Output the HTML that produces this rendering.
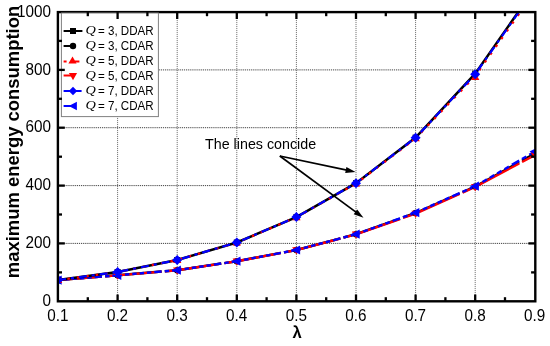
<!DOCTYPE html>
<html><head><meta charset="utf-8"><title>maximum energy consumption</title>
<style>
html,body{margin:0;padding:0;background:#fff;}
body{width:550px;height:346px;overflow:hidden;}
svg{display:block;}
text{font-family:"Liberation Sans",Arial,sans-serif;fill:#000;}
.tk{font-size:16px;}
.lg{font-size:12.1px;}
.q{font-family:"Liberation Serif","Times New Roman",serif;font-style:italic;font-size:13px;}
</style></head><body>
<svg width="550" height="346" viewBox="0 0 550 346">
<rect width="550" height="346" fill="#fff"/>
<defs><clipPath id="cp"><rect x="57.9" y="12.1" width="477.4" height="289.2"/></clipPath></defs>
<g stroke="#666" stroke-width="1" stroke-dasharray="1 1" fill="none">
<line x1="117.6" y1="12.1" x2="117.6" y2="301.4"/>
<line x1="177.2" y1="12.1" x2="177.2" y2="301.4"/>
<line x1="236.8" y1="12.1" x2="236.8" y2="301.4"/>
<line x1="296.4" y1="12.1" x2="296.4" y2="301.4"/>
<line x1="356.0" y1="12.1" x2="356.0" y2="301.4"/>
<line x1="415.6" y1="12.1" x2="415.6" y2="301.4"/>
<line x1="475.2" y1="12.1" x2="475.2" y2="301.4"/>
<line x1="57.9" y1="243.4" x2="535.2" y2="243.4" stroke="#444" stroke-dasharray="1.2 0.9"/>
<line x1="57.9" y1="185.6" x2="535.2" y2="185.6" stroke="#444" stroke-dasharray="1.2 0.9"/>
<line x1="57.9" y1="127.7" x2="535.2" y2="127.7" stroke="#444" stroke-dasharray="1.2 0.9"/>
<line x1="57.9" y1="69.9" x2="535.2" y2="69.9" stroke="#444" stroke-dasharray="1.2 0.9"/>
</g>
<g clip-path="url(#cp)" fill="none">
<line x1="58.0" y1="280.1" x2="117.6" y2="275.3" stroke="#000" stroke-width="2.4" stroke-dasharray="44.1 3.2 200"/>
<line x1="117.6" y1="275.3" x2="177.2" y2="270.2" stroke="#000" stroke-width="2.4" stroke-dasharray="44.2 3.2 200"/>
<line x1="177.2" y1="270.2" x2="236.8" y2="261.2" stroke="#000" stroke-width="2.4" stroke-dasharray="44.5 3.2 200"/>
<line x1="236.8" y1="261.2" x2="296.4" y2="250.0" stroke="#000" stroke-width="2.4" stroke-dasharray="44.8 3.2 200"/>
<line x1="296.4" y1="250.0" x2="356.0" y2="234.2" stroke="#000" stroke-width="2.4" stroke-dasharray="45.5 3.2 200"/>
<line x1="356.0" y1="234.2" x2="415.6" y2="213.0" stroke="#000" stroke-width="2.4" stroke-dasharray="46.7 3.2 200"/>
<line x1="415.6" y1="213.0" x2="475.2" y2="186.5" stroke="#000" stroke-width="2.4" stroke-dasharray="48.2 3.2 200"/>
<line x1="475.2" y1="186.5" x2="534.8" y2="153.6" stroke="#000" stroke-width="2.4" stroke-dasharray="50.3 3.2 200"/>
<line x1="58.0" y1="280.1" x2="117.6" y2="275.4" stroke="#f00" stroke-width="2.4" stroke-dasharray="44.1 3.2 200"/>
<line x1="117.6" y1="275.4" x2="177.2" y2="270.3" stroke="#f00" stroke-width="2.4" stroke-dasharray="44.2 3.2 200"/>
<line x1="177.2" y1="270.3" x2="236.8" y2="261.3" stroke="#f00" stroke-width="2.4" stroke-dasharray="44.5 3.2 200"/>
<line x1="236.8" y1="261.3" x2="296.4" y2="250.1" stroke="#f00" stroke-width="2.4" stroke-dasharray="44.8 3.2 200"/>
<line x1="296.4" y1="250.1" x2="356.0" y2="234.4" stroke="#f00" stroke-width="2.4" stroke-dasharray="45.5 3.2 200"/>
<line x1="356.0" y1="234.4" x2="415.6" y2="213.6" stroke="#f00" stroke-width="2.4" stroke-dasharray="46.6 3.2 200"/>
<line x1="415.6" y1="213.6" x2="475.2" y2="187.0" stroke="#f00" stroke-width="2.4" stroke-dasharray="48.2 3.2 200"/>
<line x1="475.2" y1="187.0" x2="534.8" y2="155.2" stroke="#f00" stroke-width="2.4" stroke-dasharray="49.9 3.2 200"/>
<line x1="58.0" y1="280.1" x2="117.6" y2="275.3" stroke="#00f" stroke-width="2.4" stroke-dasharray="4.41 2.94 4.41 2.94 4.41 2.94 4.41 2.94 4.41 2.94 7.36 3.2 4.41 2.94 4.41 2.94 4.41 2.94"/>
<line x1="117.6" y1="275.3" x2="177.2" y2="270.2" stroke="#00f" stroke-width="2.4" stroke-dasharray="4.42 2.94 4.42 2.94 4.42 2.94 4.42 2.94 4.42 2.94 7.36 3.2 4.42 2.94 4.42 2.94 4.42 2.94"/>
<line x1="177.2" y1="270.2" x2="236.8" y2="261.2" stroke="#00f" stroke-width="2.4" stroke-dasharray="4.45 2.97 4.45 2.97 4.45 2.97 4.45 2.97 4.45 2.97 7.42 3.2 4.45 2.97 4.45 2.97 4.45 2.97"/>
<line x1="236.8" y1="261.2" x2="296.4" y2="250.0" stroke="#00f" stroke-width="2.4" stroke-dasharray="4.48 2.98 4.48 2.98 4.48 2.98 4.48 2.98 4.48 2.98 7.46 3.2 4.48 2.98 4.48 2.98 4.48 2.98"/>
<line x1="296.4" y1="250.0" x2="356.0" y2="234.2" stroke="#00f" stroke-width="2.4" stroke-dasharray="4.55 3.03 4.55 3.03 4.55 3.03 4.55 3.03 4.55 3.03 7.59 3.2 4.55 3.03 4.55 3.03 4.55 3.03"/>
<line x1="356.0" y1="234.2" x2="415.6" y2="212.7" stroke="#00f" stroke-width="2.4" stroke-dasharray="4.68 3.12 4.68 3.12 4.68 3.12 4.68 3.12 4.68 3.12 7.80 3.2 4.68 3.12 4.68 3.12 4.68 3.12"/>
<line x1="415.6" y1="212.7" x2="475.2" y2="186.2" stroke="#00f" stroke-width="2.4" stroke-dasharray="4.82 3.21 4.82 3.21 4.82 3.21 4.82 3.21 4.82 3.21 8.03 3.2 4.82 3.21 4.82 3.21 4.82 3.21"/>
<line x1="475.2" y1="186.2" x2="534.8" y2="151.6" stroke="#00f" stroke-width="2.4" stroke-dasharray="5.09 3.39 5.09 3.39 5.09 3.39 5.09 3.39 5.09 3.39 8.48 3.2 5.09 3.39 5.09 3.39 5.09 3.39"/>
<polyline points="58.0,280.1 117.6,272.0 177.2,260.0 236.8,242.5 296.4,217.1 356.0,183.2 415.6,137.6 475.2,73.6 534.8,-11.6" stroke="#000" stroke-width="2.5"/>
<polyline points="58.0,280.1 117.6,272.0 177.2,260.0 236.8,242.6 296.4,217.3 356.0,183.6 415.6,138.4 475.2,76.0 534.8,-8.4" stroke="#f00" stroke-width="2.2" stroke-dasharray="2.5 7"/>
<polyline points="58.0,280.1 117.6,272.0 177.2,260.0 236.8,242.5 296.4,217.1 356.0,183.2 415.6,137.7 475.2,74.2 534.8,-10.6" stroke="#00f" stroke-width="2.2" stroke-dasharray="8 5 3 5"/>
<circle cx="58.0" cy="280.1" r="3.2" fill="#000"/>
<circle cx="117.6" cy="275.3" r="3.2" fill="#000"/>
<circle cx="177.2" cy="270.2" r="3.2" fill="#000"/>
<circle cx="236.8" cy="261.2" r="3.2" fill="#000"/>
<circle cx="296.4" cy="250.0" r="3.2" fill="#000"/>
<circle cx="356.0" cy="234.2" r="3.2" fill="#000"/>
<circle cx="415.6" cy="213.0" r="3.2" fill="#000"/>
<circle cx="475.2" cy="186.5" r="3.2" fill="#000"/>
<circle cx="534.8" cy="153.6" r="3.2" fill="#000"/>
<polygon points="58.0,284.5 53.8,277.2 62.2,277.2" fill="#f00"/>
<polygon points="117.6,279.8 113.4,272.5 121.8,272.5" fill="#f00"/>
<polygon points="177.2,274.7 173.0,267.4 181.4,267.4" fill="#f00"/>
<polygon points="236.8,265.7 232.6,258.4 241.0,258.4" fill="#f00"/>
<polygon points="296.4,254.5 292.2,247.2 300.6,247.2" fill="#f00"/>
<polygon points="356.0,238.8 351.8,231.5 360.2,231.5" fill="#f00"/>
<polygon points="415.6,218.0 411.4,210.7 419.8,210.7" fill="#f00"/>
<polygon points="475.2,191.4 471.0,184.1 479.4,184.1" fill="#f00"/>
<polygon points="534.8,159.6 530.6,152.3 539.0,152.3" fill="#f00"/>
<polygon points="52.7,280.1 61.7,275.5 61.7,284.7" fill="#00f"/>
<polygon points="112.3,275.3 121.3,270.7 121.3,279.9" fill="#00f"/>
<polygon points="171.9,270.2 180.9,265.6 180.9,274.8" fill="#00f"/>
<polygon points="231.5,261.2 240.5,256.6 240.5,265.8" fill="#00f"/>
<polygon points="291.1,250.0 300.1,245.4 300.1,254.6" fill="#00f"/>
<polygon points="350.7,234.2 359.7,229.6 359.7,238.8" fill="#00f"/>
<polygon points="410.3,212.7 419.3,208.1 419.3,217.3" fill="#00f"/>
<polygon points="469.9,186.2 478.9,181.6 478.9,190.8" fill="#00f"/>
<polygon points="529.5,151.6 538.5,147.0 538.5,156.2" fill="#00f"/>
<rect x="55.0" y="277.1" width="6.0" height="6.0" fill="#000"/>
<rect x="114.6" y="269.0" width="6.0" height="6.0" fill="#000"/>
<rect x="174.2" y="257.0" width="6.0" height="6.0" fill="#000"/>
<rect x="233.8" y="239.5" width="6.0" height="6.0" fill="#000"/>
<rect x="293.4" y="214.1" width="6.0" height="6.0" fill="#000"/>
<rect x="353.0" y="180.2" width="6.0" height="6.0" fill="#000"/>
<rect x="412.6" y="134.6" width="6.0" height="6.0" fill="#000"/>
<rect x="472.2" y="70.6" width="6.0" height="6.0" fill="#000"/>
<rect x="531.8" y="-14.6" width="6.0" height="6.0" fill="#000"/>
<polygon points="58.0,275.7 53.8,283.0 62.2,283.0" fill="#f00"/>
<polygon points="117.6,267.6 113.4,274.9 121.8,274.9" fill="#f00"/>
<polygon points="177.2,255.6 173.0,262.9 181.4,262.9" fill="#f00"/>
<polygon points="236.8,238.2 232.6,245.5 241.0,245.5" fill="#f00"/>
<polygon points="296.4,212.9 292.2,220.2 300.6,220.2" fill="#f00"/>
<polygon points="356.0,179.2 351.8,186.5 360.2,186.5" fill="#f00"/>
<polygon points="415.6,134.0 411.4,141.3 419.8,141.3" fill="#f00"/>
<polygon points="475.2,72.8 471.0,80.1 479.4,80.1" fill="#f00"/>
<polygon points="534.8,-12.8 530.6,-5.5 539.0,-5.5" fill="#f00"/>
<polygon points="58.0,275.1 63.0,280.1 58.0,285.1 53.0,280.1" fill="#00f"/>
<polygon points="117.6,267.0 122.6,272.0 117.6,277.0 112.6,272.0" fill="#00f"/>
<polygon points="177.2,255.0 182.2,260.0 177.2,265.0 172.2,260.0" fill="#00f"/>
<polygon points="236.8,237.5 241.8,242.5 236.8,247.5 231.8,242.5" fill="#00f"/>
<polygon points="296.4,212.1 301.4,217.1 296.4,222.1 291.4,217.1" fill="#00f"/>
<polygon points="356.0,178.2 361.0,183.2 356.0,188.2 351.0,183.2" fill="#00f"/>
<polygon points="415.6,132.7 420.6,137.7 415.6,142.7 410.6,137.7" fill="#00f"/>
<polygon points="475.2,69.2 480.2,74.2 475.2,79.2 470.2,74.2" fill="#00f"/>
<polygon points="534.8,-15.6 539.8,-10.6 534.8,-5.6 529.8,-10.6" fill="#00f"/>
</g>
<rect x="57.9" y="12.1" width="477.4" height="289.2" fill="none" stroke="#000" stroke-width="2.4"/>
<rect x="61.4" y="13.0" width="97.0" height="103.6" fill="#fff" stroke="#808080" stroke-width="1"/>
<line x1="63.6" y1="31.0" x2="82.4" y2="31.0" stroke="#000" stroke-width="2"/>
<rect x="70.0" y="28.0" width="6.0" height="6.0" fill="#000"/>
<line x1="63.6" y1="46.0" x2="73.0" y2="46.0" stroke="#000" stroke-width="2"/>
<circle cx="73.0" cy="46.0" r="3.2" fill="#000"/>
<line x1="63.6" y1="61.5" x2="66.6" y2="61.5" stroke="#f00" stroke-width="2"/>
<line x1="75.0" y1="61.5" x2="79.4" y2="61.5" stroke="#f00" stroke-width="2"/>
<polygon points="72.5,56.4 68.4,63.6 76.6,63.6" fill="#f00"/>
<line x1="63.6" y1="75.5" x2="73.0" y2="75.5" stroke="#f00" stroke-width="2"/>
<polygon points="73.0,80.3 68.9,73.1 77.1,73.1" fill="#f00"/>
<line x1="63.6" y1="91.0" x2="73.0" y2="91.0" stroke="#00f" stroke-width="2"/>
<line x1="75.0" y1="91.0" x2="81.6" y2="91.0" stroke="#00f" stroke-width="2"/>
<polygon points="73.0,86.8 77.2,91.0 73.0,95.2 68.8,91.0" fill="#00f"/>
<line x1="63.6" y1="106.0" x2="73.0" y2="106.0" stroke="#00f" stroke-width="2"/>
<polygon points="68.7,106.0 76.9,101.8 76.9,110.2" fill="#00f"/>
<text class="q" transform="translate(85.4,34.4) scale(1.1,1)">Q</text>
<text class="lg" transform="translate(98.0,34.6) scale(0.958,1)">= 3, DDAR</text>
<text class="q" transform="translate(85.4,49.4) scale(1.1,1)">Q</text>
<text class="lg" transform="translate(98.0,49.6) scale(0.958,1)">= 3, CDAR</text>
<text class="q" transform="translate(85.4,64.4) scale(1.1,1)">Q</text>
<text class="lg" transform="translate(98.0,64.6) scale(0.958,1)">= 5, DDAR</text>
<text class="q" transform="translate(85.4,79.4) scale(1.1,1)">Q</text>
<text class="lg" transform="translate(98.0,79.6) scale(0.958,1)">= 5, CDAR</text>
<text class="q" transform="translate(85.4,94.4) scale(1.1,1)">Q</text>
<text class="lg" transform="translate(98.0,94.6) scale(0.958,1)">= 7, DDAR</text>
<text class="q" transform="translate(85.4,109.4) scale(1.1,1)">Q</text>
<text class="lg" transform="translate(98.0,109.6) scale(0.958,1)">= 7, CDAR</text>
<g stroke="#000" stroke-width="2.3" fill="none">
<line x1="87.8" y1="301.4" x2="87.8" y2="297.2"/>
<line x1="87.8" y1="12.1" x2="87.8" y2="16.2"/>
<line x1="117.6" y1="301.4" x2="117.6" y2="294.5"/>
<line x1="117.6" y1="12.1" x2="117.6" y2="19.0"/>
<line x1="147.4" y1="301.4" x2="147.4" y2="297.2"/>
<line x1="147.4" y1="12.1" x2="147.4" y2="16.2"/>
<line x1="177.2" y1="301.4" x2="177.2" y2="294.5"/>
<line x1="177.2" y1="12.1" x2="177.2" y2="19.0"/>
<line x1="207.0" y1="301.4" x2="207.0" y2="297.2"/>
<line x1="207.0" y1="12.1" x2="207.0" y2="16.2"/>
<line x1="236.8" y1="301.4" x2="236.8" y2="294.5"/>
<line x1="236.8" y1="12.1" x2="236.8" y2="19.0"/>
<line x1="266.6" y1="301.4" x2="266.6" y2="297.2"/>
<line x1="266.6" y1="12.1" x2="266.6" y2="16.2"/>
<line x1="296.4" y1="301.4" x2="296.4" y2="294.5"/>
<line x1="296.4" y1="12.1" x2="296.4" y2="19.0"/>
<line x1="326.2" y1="301.4" x2="326.2" y2="297.2"/>
<line x1="326.2" y1="12.1" x2="326.2" y2="16.2"/>
<line x1="356.0" y1="301.4" x2="356.0" y2="294.5"/>
<line x1="356.0" y1="12.1" x2="356.0" y2="19.0"/>
<line x1="385.8" y1="301.4" x2="385.8" y2="297.2"/>
<line x1="385.8" y1="12.1" x2="385.8" y2="16.2"/>
<line x1="415.6" y1="301.4" x2="415.6" y2="294.5"/>
<line x1="415.6" y1="12.1" x2="415.6" y2="19.0"/>
<line x1="445.4" y1="301.4" x2="445.4" y2="297.2"/>
<line x1="445.4" y1="12.1" x2="445.4" y2="16.2"/>
<line x1="475.2" y1="301.4" x2="475.2" y2="294.5"/>
<line x1="475.2" y1="12.1" x2="475.2" y2="19.0"/>
<line x1="505.0" y1="301.4" x2="505.0" y2="297.2"/>
<line x1="505.0" y1="12.1" x2="505.0" y2="16.2"/>
<line x1="57.9" y1="272.4" x2="62.0" y2="272.4"/>
<line x1="535.2" y1="272.4" x2="531.1" y2="272.4"/>
<line x1="57.9" y1="243.4" x2="64.8" y2="243.4"/>
<line x1="535.2" y1="243.4" x2="528.4" y2="243.4"/>
<line x1="57.9" y1="214.5" x2="62.0" y2="214.5"/>
<line x1="535.2" y1="214.5" x2="531.1" y2="214.5"/>
<line x1="57.9" y1="185.6" x2="64.8" y2="185.6"/>
<line x1="535.2" y1="185.6" x2="528.4" y2="185.6"/>
<line x1="57.9" y1="156.7" x2="62.0" y2="156.7"/>
<line x1="535.2" y1="156.7" x2="531.1" y2="156.7"/>
<line x1="57.9" y1="127.7" x2="64.8" y2="127.7"/>
<line x1="535.2" y1="127.7" x2="528.4" y2="127.7"/>
<line x1="57.9" y1="98.8" x2="62.0" y2="98.8"/>
<line x1="535.2" y1="98.8" x2="531.1" y2="98.8"/>
<line x1="57.9" y1="69.9" x2="64.8" y2="69.9"/>
<line x1="535.2" y1="69.9" x2="528.4" y2="69.9"/>
<line x1="57.9" y1="40.9" x2="62.0" y2="40.9"/>
<line x1="535.2" y1="40.9" x2="531.1" y2="40.9"/>
</g>
<text class="tk" transform="translate(57.9,320.7) scale(0.955,1)" text-anchor="middle">0.1</text>
<text class="tk" transform="translate(117.5,320.7) scale(0.955,1)" text-anchor="middle">0.2</text>
<text class="tk" transform="translate(177.1,320.7) scale(0.955,1)" text-anchor="middle">0.3</text>
<text class="tk" transform="translate(236.7,320.7) scale(0.955,1)" text-anchor="middle">0.4</text>
<text class="tk" transform="translate(296.3,320.7) scale(0.955,1)" text-anchor="middle">0.5</text>
<text class="tk" transform="translate(355.9,320.7) scale(0.955,1)" text-anchor="middle">0.6</text>
<text class="tk" transform="translate(415.5,320.7) scale(0.955,1)" text-anchor="middle">0.7</text>
<text class="tk" transform="translate(475.1,320.7) scale(0.955,1)" text-anchor="middle">0.8</text>
<text class="tk" transform="translate(534.7,320.7) scale(0.955,1)" text-anchor="middle">0.9</text>
<text class="tk" transform="translate(51.0,306.0) scale(0.955,1)" text-anchor="end">0</text>
<text class="tk" transform="translate(51.0,248.1) scale(0.955,1)" text-anchor="end">200</text>
<text class="tk" transform="translate(51.0,190.3) scale(0.955,1)" text-anchor="end">400</text>
<text class="tk" transform="translate(51.0,132.4) scale(0.955,1)" text-anchor="end">600</text>
<text class="tk" transform="translate(51.0,74.6) scale(0.955,1)" text-anchor="end">800</text>
<text class="tk" transform="translate(51.0,16.7) scale(0.955,1)" text-anchor="end">1000</text>
<text x="297.2" y="338.4" text-anchor="middle" style="font-size:16.6px;font-weight:bold">λ</text>
<text transform="translate(18.6,142.0) rotate(-90)" text-anchor="middle" style="font-size:18.45px;font-weight:bold">maximum energy consumption</text>
<text transform="translate(205.0,148.8) scale(0.94,1)" style="font-size:15.2px">The lines concide</text>
<line x1="279.8" y1="156.0" x2="346.8" y2="170.1" stroke="#000" stroke-width="1.7"/><polygon points="355.6,172.0 345.2,172.9 346.4,167.0" fill="#000"/>
<line x1="279.8" y1="156.0" x2="356.3" y2="212.4" stroke="#000" stroke-width="1.7"/><polygon points="363.5,217.7 353.7,214.2 357.2,209.4" fill="#000"/>
</svg></body></html>
